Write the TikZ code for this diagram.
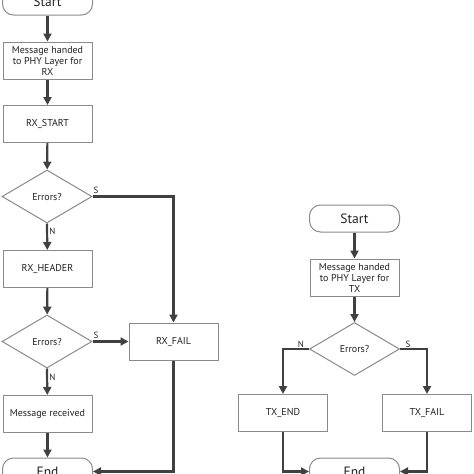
\documentclass[tikz,border=0pt]{standalone}
\usepackage{fontspec}
\setmainfont{PT Sans}
\usetikzlibrary{shapes.geometric,arrows.meta}
\definecolor{edgegray}{HTML}{8A8A8A}
\definecolor{arrowgray}{HTML}{404040}
\definecolor{textgray}{HTML}{222222}
\tikzset{
  box/.style={draw=edgegray, line width=1pt, fill=white, minimum width=89pt, minimum height=37pt, inner sep=0pt, align=center, font=\fontsize{10}{11}\selectfont, text=textgray},
  term/.style={draw=edgegray, line width=1pt, fill=white, rounded corners=11pt, minimum width=90pt, minimum height=27pt, inner sep=0pt, font=\fontsize{13.5}{14}\selectfont, text=textgray},
  dec/.style={diamond, draw=edgegray, line width=1pt, fill=white, minimum width=90pt, minimum height=53pt, inner sep=0pt, font=\fontsize{10}{11}\selectfont, text=textgray},
  flow/.style={draw=arrowgray, line width=2.2pt, -{Triangle[length=8pt,width=8pt]}},
  lbl/.style={font=\fontsize{9}{9}\selectfont, text=textgray, inner sep=0pt}
}
\begin{document}
\begin{tikzpicture}[x=1pt,y=-1pt]
\useasboundingbox (0,0) rectangle (474,474);
% left column
\node[term] (startL) at (47.5,1.5) {Start};
\node[box] (m1) at (47.5,60.5) {Message handed\\to PHY Layer for\\RX};
\node[box] (rxs) at (47.5,124) {RX\_START};
\node[dec] (d1) at (47,196.5) {Errors?};
\node[box] (rxh) at (47.5,269) {RX\_HEADER};
\node[dec] (d2) at (47,341.5) {Errors?};
\node[box] (rxf) at (173.5,341.5) {RX\_FAIL};
\node[box] (mrec) at (47.5,414) {Message received};
\node[term] (endL) at (47.5,471.5) {End};
% right column
\node[term] (startR) at (354.5,218.5) {Start};
\node[box] (m2) at (354.5,277.5) {Message handed\\to PHY Layer for\\TX};
\node[dec] (d3) at (354.5,349) {Errors?};
\node[box] (txe) at (283,413) {TX\_END};
\node[box] (txf) at (427,413) {TX\_FAIL};
\node[term] (endR) at (354.5,471.5) {End};
% labels
\node[lbl] (s1) at (96,190) {S};
\node[lbl] (n1) at (52.5,231) {N};
\node[lbl] (s2) at (96,335) {S};
\node[lbl] (n2) at (52.5,377) {N};
\node[lbl] (n3) at (301,344) {N};
\node[lbl] (s3) at (408,344) {S};
% connectors
\draw[flow] (startL) -- (m1);
\draw[flow] (m1) -- (rxs);
\draw[flow] (rxs) -- (d1);
\draw[flow] (d1.south) -- (rxh);
\draw[flow] (d1.east) -| (rxf.north);
\draw[flow] (rxh) -- (d2);
\draw[flow] (d2.east) -- (rxf.west);
\draw[flow] (d2.south) -- (mrec);
\draw[flow] (mrec) -- (endL);
\draw[flow] (rxf.south) |- (endL.east);
\draw[flow] (startR) -- (m2);
\draw[flow] (m2) -- (d3);
\draw[flow] (d3.west) -| (txe.north);
\draw[flow] (d3.east) -| (txf.north);
\draw[flow] (txe.south) |- (endR.west);
\draw[flow] (txf.south) |- (endR.east);
\end{tikzpicture}
\end{document}
